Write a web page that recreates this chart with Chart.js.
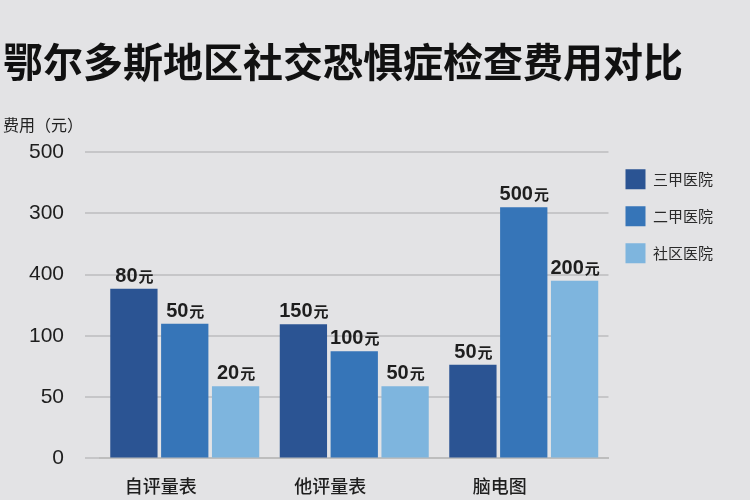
<!DOCTYPE html>
<html lang="zh">
<head>
  <meta charset="UTF-8" />
  <title>鄂尔多斯地区社交恐惧症检查费用对比</title>
  <script src="https://cdn.jsdelivr.net/npm/chart.js"></script>
  <style>
    html, body { margin: 0; padding: 0; background: #e3e3e5; }
    canvas { display: block; }
  </style>
</head>
<body>
  <canvas id="costChart" width="750" height="500"></canvas>

  <script>
    const categories  = ['自评量表', '他评量表', '脑电图'];
    const seriesNames = ['三甲医院', '二甲医院', '社区医院'];

    // the reference axis is not numeric (0, 50, 100, 400, 300, 500 at equal steps),
    // so bars sit on a step scale: one gridline step = 1
    const yTickLabels = ['0', '50', '100', '400', '300', '500'];
    const sanjiaBars  = [2.77, 2.19, 1.53];
    const erjiaBars   = [2.2, 1.75, 4.1];
    const shequBars   = [1.18, 1.18, 2.9];

    // costs printed above the bars
    const sanjiaCost = [80, 150, 50];
    const erjiaCost  = [50, 100, 500];
    const shequCost  = [20, 50, 200];

    const colors = ['#2b5493', '#3675b8', '#7eb5de'];
    const bars   = [sanjiaBars, erjiaBars, shequBars];
    const costs  = [sanjiaCost, erjiaCost, shequCost];

    const CJK = '"Noto Sans CJK SC", "Noto Sans", sans-serif';
    const LAT = '"Liberation Sans", "Noto Sans CJK SC", sans-serif';

    const costLabels = {
      id: 'costLabels',
      afterDatasetsDraw(chart) {
        const ctx = chart.ctx;
        ctx.save();
        ctx.fillStyle = '#1e1e1e';
        ctx.textBaseline = 'alphabetic';
        chart.data.datasets.forEach((ds, i) => {
          chart.getDatasetMeta(i).data.forEach((bar, j) => {
            const num = String(costs[i][j]);
            ctx.font = 'bold 20px ' + LAT;
            const w1 = ctx.measureText(num).width;
            ctx.font = 'bold 15px ' + CJK;
            const w2 = ctx.measureText('元').width;
            const x = bar.x - (w1 + w2) / 2;
            const y = bar.y - 7;
            ctx.font = 'bold 20px ' + LAT;
            ctx.textAlign = 'left';
            ctx.fillText(num, x, y);
            ctx.font = 'bold 15px ' + CJK;
            ctx.fillText('元', x + w1 + 1, y);
          });
        });
        ctx.restore();
      }
    };

    new Chart(document.getElementById('costChart'), {
      type: 'bar',
      data: {
        labels: categories,
        datasets: seriesNames.map((name, i) => ({
          label: name,
          data: bars[i],
          backgroundColor: colors[i],
          borderWidth: 0,
          categoryPercentage: 0.9,
          barPercentage: 0.93,
        })),
      },
      options: {
        responsive: false,
        animation: false,
        layout: { padding: { left: 3, right: 27, top: 0, bottom: -14 } },
        plugins: {
          title: {
            display: true,
            text: '鄂尔多斯地区社交恐惧症检查费用对比',
            align: 'start',
            color: '#111',
            font: { family: CJK, size: 40, weight: 'bold', lineHeight: 1.2 },
            padding: { top: 38, bottom: 10 },
          },
          subtitle: {
            display: true,
            text: '费用（元）',
            align: 'start',
            color: '#222',
            font: { family: CJK, size: 16, lineHeight: 1.2 },
            padding: { top: 19, bottom: 18 },
          },
          legend: {
            position: 'right',
            align: 'start',
            fullSize: false,
            labels: {
              boxWidth: 20,
              boxHeight: 20,
              padding: 17,
              color: '#2a2a2a',
              font: { family: CJK, size: 15 },
            },
          },
          tooltip: { enabled: false },
        },
        scales: {
          x: {
            grid: { display: false, drawTicks: false },
            border: { display: true, color: '#bdbdbd', width: 2 },
            ticks: {
              color: '#1e1e1e',
              padding: 17,
              labelOffset: -24,
              font: { family: CJK, size: 18, weight: '500' },
            },
          },
          y: {
            min: 0,
            max: 5,
            afterFit: s => { s.width = 97; },
            border: { display: false },
            grid: { color: '#c6c6c8', lineWidth: 2, tickLength: 15, tickColor: '#c6c6c8' },
            ticks: {
              stepSize: 1,
              padding: 21,
              color: '#1e1e1e',
              font: { family: LAT, size: 21 },
              callback: v => yTickLabels[v],
            },
          },
        },
      },
      plugins: [costLabels],
    });
  </script>
</body>
</html>
